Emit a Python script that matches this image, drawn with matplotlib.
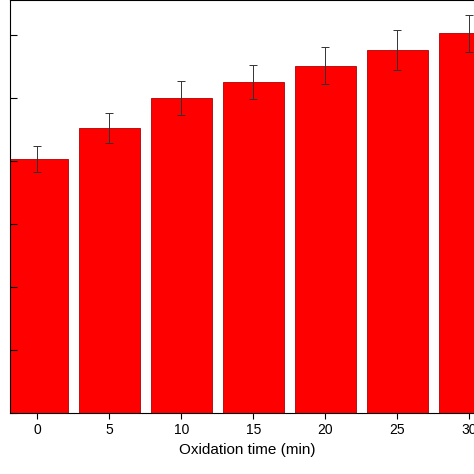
import matplotlib.pyplot as plt

times = [0, 5, 10, 15, 20, 25, 30]
values = [4.03, 4.52, 5.0, 5.25, 5.51, 5.76, 6.02]
errors = [0.20, 0.24, 0.27, 0.27, 0.30, 0.32, 0.30]

fig = plt.figure(figsize=(4.74, 4.74), dpi=100)
ax = fig.add_axes([10 / 474, 61 / 474, 1.0, 413 / 474])

ax.bar(times, values, width=4.2, color="#ff0000", edgecolor="#b00000", linewidth=0.6,
       yerr=errors, error_kw=dict(ecolor="#333333", elinewidth=0.7, capsize=3, capthick=0.7))

# 5 min ~ 72 px, axes 474 px wide
ax.set_xlim(-1.9, -1.9 + 474 / 72 * 5)
ax.set_ylim(0, 6.55)
ax.set_xticks(times)
ax.set_yticks([0, 1, 2, 3, 4, 5, 6])
ax.set_yticklabels([])
ax.tick_params(axis="y", direction="in", length=5)
ax.tick_params(axis="x", direction="out", length=4, labelsize=10)
ax.set_xlabel("Oxidation time (min)", fontsize=11, family="Liberation Sans")
for lab in ax.get_xticklabels():
    lab.set_family("Liberation Sans")

fig.savefig("out.png", dpi=100)
